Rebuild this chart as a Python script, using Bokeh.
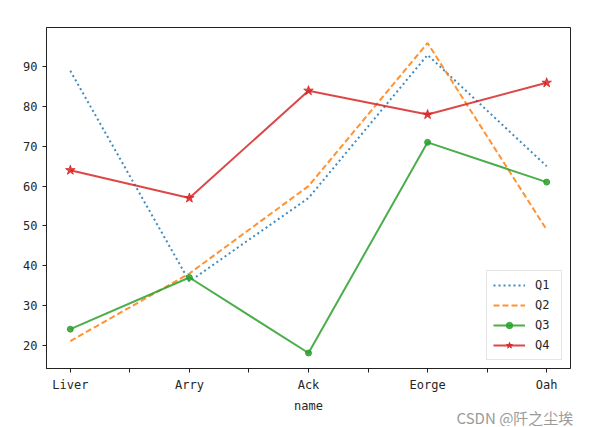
from bokeh.plotting import figure
from bokeh.models import FixedTicker, Range1d, Title, Legend, LegendItem
from bokeh.embed import file_html
from bokeh.resources import INLINE

names = ["Liver", "Arry", "Ack", "Eorge", "Oah"]
q1 = [89, 36, 57, 93, 65]
q2 = [21, 38, 60, 96, 49]
q3 = [24, 37, 18, 71, 61]
q4 = [64, 57, 84, 78, 86]
y_ticks = [20, 30, 40, 50, 60, 70, 80, 90]

xs = list(range(len(names)))
FONT = "DejaVu Sans Mono"

p = figure(frame_width=524, frame_height=341, output_backend="svg", toolbar_location=None,
           x_range=Range1d(-0.2, len(names) - 0.8), y_range=Range1d(14.1, 99.9),
           min_border_left=46, min_border_right=30, min_border_top=27, min_border_bottom=58)
p.background_fill_color = "white"
p.border_fill_color = "white"
p.outline_line_color = "#222222"
p.outline_line_width = 1
p.xgrid.visible = False
p.ygrid.visible = False

p.xaxis.ticker = FixedTicker(ticks=xs, minor_ticks=[i + 0.5 for i in xs[:-1]])
p.xaxis.major_label_overrides = {i: n for i, n in enumerate(names)}
p.yaxis.ticker = FixedTicker(ticks=y_ticks)
for ax in (p.xaxis[0], p.yaxis[0]):
    ax.axis_line_color = "#222222"
    ax.major_tick_line_color = "#222222"
    ax.minor_tick_line_color = "#222222"
    ax.major_tick_in = 0
    ax.major_tick_out = 4
    ax.minor_tick_in = 0
    ax.minor_tick_out = 4
    ax.major_label_text_font = FONT
    ax.major_label_text_font_size = "12px"
    ax.major_label_text_color = "#262626"
    ax.major_label_standoff = 5
p.yaxis.minor_tick_line_color = None
p.xaxis.axis_label = "name"
p.xaxis.axis_label_text_font = FONT
p.xaxis.axis_label_text_font_size = "12px"
p.xaxis.axis_label_text_font_style = "normal"
p.xaxis.axis_label_text_color = "#262626"
p.xaxis.axis_label_standoff = 4

r1 = p.line(xs, q1, line_color="#1f77b4", line_width=2, line_dash="2 3", alpha=0.85)
r2 = p.line(xs, q2, line_color="#ff7f0e", line_width=2, line_dash="6 3", alpha=0.85)
r3 = p.line(xs, q3, line_color="#2ca02c", line_width=2, alpha=0.85)
r3m = p.scatter(xs, q3, marker="circle", size=6, color="#2ca02c", alpha=0.85)
r4 = p.line(xs, q4, line_color="#d62728", line_width=2, alpha=0.85)
r4m = p.scatter(xs, q4, marker="star", size=10, color="#d62728", alpha=0.85)

legend = Legend(items=[
    LegendItem(label="Q1", renderers=[r1]),
    LegendItem(label="Q2", renderers=[r2]),
    LegendItem(label="Q3", renderers=[r3, r3m]),
    LegendItem(label="Q4", renderers=[r4, r4m]),
], location="bottom_right")
legend.label_text_font = FONT
legend.label_text_font_size = "12px"
legend.label_text_color = "#262626"
legend.border_line_color = "#cccccc"
legend.background_fill_alpha = 0.8
legend.glyph_width = 32
legend.glyph_height = 16
legend.spacing = 4
legend.padding = 6
legend.margin = 8
legend.label_standoff = 10
p.add_layout(legend, "center")

wm = Title(text="CSDN @阡之尘埃", align="left", offset=410, standoff=-18,
           vertical_align="top",
           text_font="Noto Sans CJK SC", text_font_size="15px", text_color="#9a9a9a",
           text_font_style="normal")
p.add_layout(wm, "below")

open("out.html", "w").write(file_html(p, INLINE))
